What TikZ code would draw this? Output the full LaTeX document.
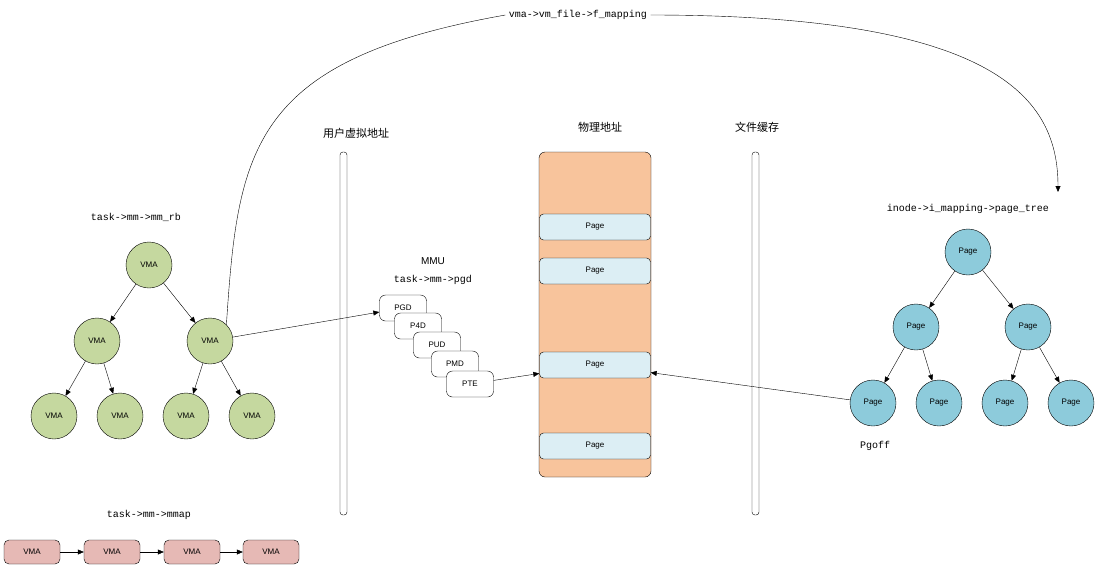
\documentclass[tikz,border=0pt]{standalone}
\usepackage{fontspec}
\setmainfont{Liberation Sans}
\setmonofont{Liberation Mono}
\newfontfamily\cjk{Noto Sans CJK SC}
\usetikzlibrary{positioning,arrows.meta}
\definecolor{vmagreen}{HTML}{C5D89F}
\definecolor{vmapink}{HTML}{E6B9B5}
\definecolor{pagecyan}{HTML}{8DCBDB}
\definecolor{pagebox}{HTML}{DCEEF4}
\definecolor{physfill}{HTML}{F8C49C}
\tikzset{
	vma/.style={circle,draw=black,fill=vmagreen,minimum size=46,inner sep=0,font=\fontsize{8}{8}\selectfont},
	page/.style={circle,draw=black,fill=pagecyan,minimum size=46,inner sep=0,font=\fontsize{8}{8}\selectfont},
	listbox/.style={draw=black,fill=vmapink,rounded corners=5,minimum width=56,minimum height=24,inner sep=0,font=\fontsize{8}{8}\selectfont},
	pagebar/.style={draw=black,fill=pagebox,rounded corners=4,minimum width=111,minimum height=26,inner sep=0,font=\fontsize{8}{8}\selectfont},
	table/.style={draw=black,fill=white,rounded corners=6,minimum width=47,minimum height=26,inner sep=0,font=\fontsize{8}{8}\selectfont},
	code/.style={font=\ttfamily\fontsize{10}{10}\selectfont},
	title/.style={font=\cjk\fontsize{11}{11}\selectfont},
}
\begin{document}
\begin{tikzpicture}[x=1pt,y=-1pt,>={Triangle[length=6,width=5]}]
	\useasboundingbox (0,0) rectangle (1098,568);

	% Red-black tree of VMAs
	\node[code] (rblabel) at (136,217) {task->mm->mm\_rb};
	\node[vma] (root) at (149,265) {VMA};
	\node[vma] (l) at (97,341) {VMA};
	\node[vma] (r) at (210,341) {VMA};
	\node[vma] (ll) at (54,416) {VMA};
	\node[vma] (lr) at (120,416) {VMA};
	\node[vma] (rl) at (186,416) {VMA};
	\node[vma] (rr) at (252,416) {VMA};
	\foreach \a/\b in {root/l,root/r,l/ll,l/lr,r/rl,r/rr}
		\draw[->] (\a) -- (\b);

	% mmap list
	\node[code] (listlabel) at (149,515) {task->mm->mmap};
	\foreach \x [count=\i] in {32,112,192,271}
		\node[listbox] (m\i) at (\x,552) {VMA};
	\foreach \a/\b in {m1/m2,m2/m3,m3/m4}
		\draw[->] (\a) -- (\b);

	% Address spaces
	\node[title] (userlabel) at (356,133) {用户虚拟地址};
	\draw[rounded corners=3] (340,152) rectangle (347,515);
	\node[title] (filelabel) at (757,127) {文件缓存};
	\draw[rounded corners=3] (752,152) rectangle (759,515);
	\node[title] (physlabel) at (600,127) {物理地址};
	\draw[fill=physfill,rounded corners=6] (539,152) rectangle (651,477);
	\node[pagebar] (p1) at (595,227) {Page};
	\node[pagebar] (p2) at (595,271) {Page};
	\node[pagebar] (p3) at (595,365) {Page};
	\node[pagebar] (p4) at (595,446) {Page};

	% Page tables
	\node[font=\fontsize{10}{10}\selectfont] (mmu) at (433,261) {MMU};
	\node[code] (pgdlabel) at (433,280) {task->mm->pgd};
	\node[table] (pgd) at (403,308) {PGD};
	\node[table] (p4d) at (418,326) {P4D};
	\node[table] (pud) at (437,345) {PUD};
	\node[table] (pmd) at (455,364) {PMD};
	\node[table] (pte) at (470,384) {PTE};

	% Page cache tree
	\node[code] (treelabel) at (968,209) {inode->i\_mapping->page\_tree};
	\node[page] (t) at (968,252) {Page};
	\node[page] (tl) at (916,327) {Page};
	\node[page] (tr) at (1028,327) {Page};
	\node[page] (tll) at (873,403) {Page};
	\node[page] (tlr) at (939,403) {Page};
	\node[page] (trl) at (1005,403) {Page};
	\node[page] (trr) at (1071,403) {Page};
	\foreach \a/\b in {t/tl,t/tr,tl/tll,tl/tlr,tr/trl,tr/trr}
		\draw[->] (\a) -- (\b);
	\node[code] (pgoff) at (875,446) {Pgoff};

	% Mappings
	\draw[->] (r) -- (pgd);
	\draw[->] (pte) -- (p3);
	\draw[->] (tll) -- (p3);
	\node[code] (fmap) at (578,15) {vma->vm\_file->f\_mapping};
	\coordinate (treetop) at (1058,192);
	\draw (r.north east) .. controls (238,150) and (250,60) .. (fmap.west);
	\draw[->] (fmap.east) .. controls (1000,15) and (1058,100) .. (treetop);
\end{tikzpicture}
\end{document}
